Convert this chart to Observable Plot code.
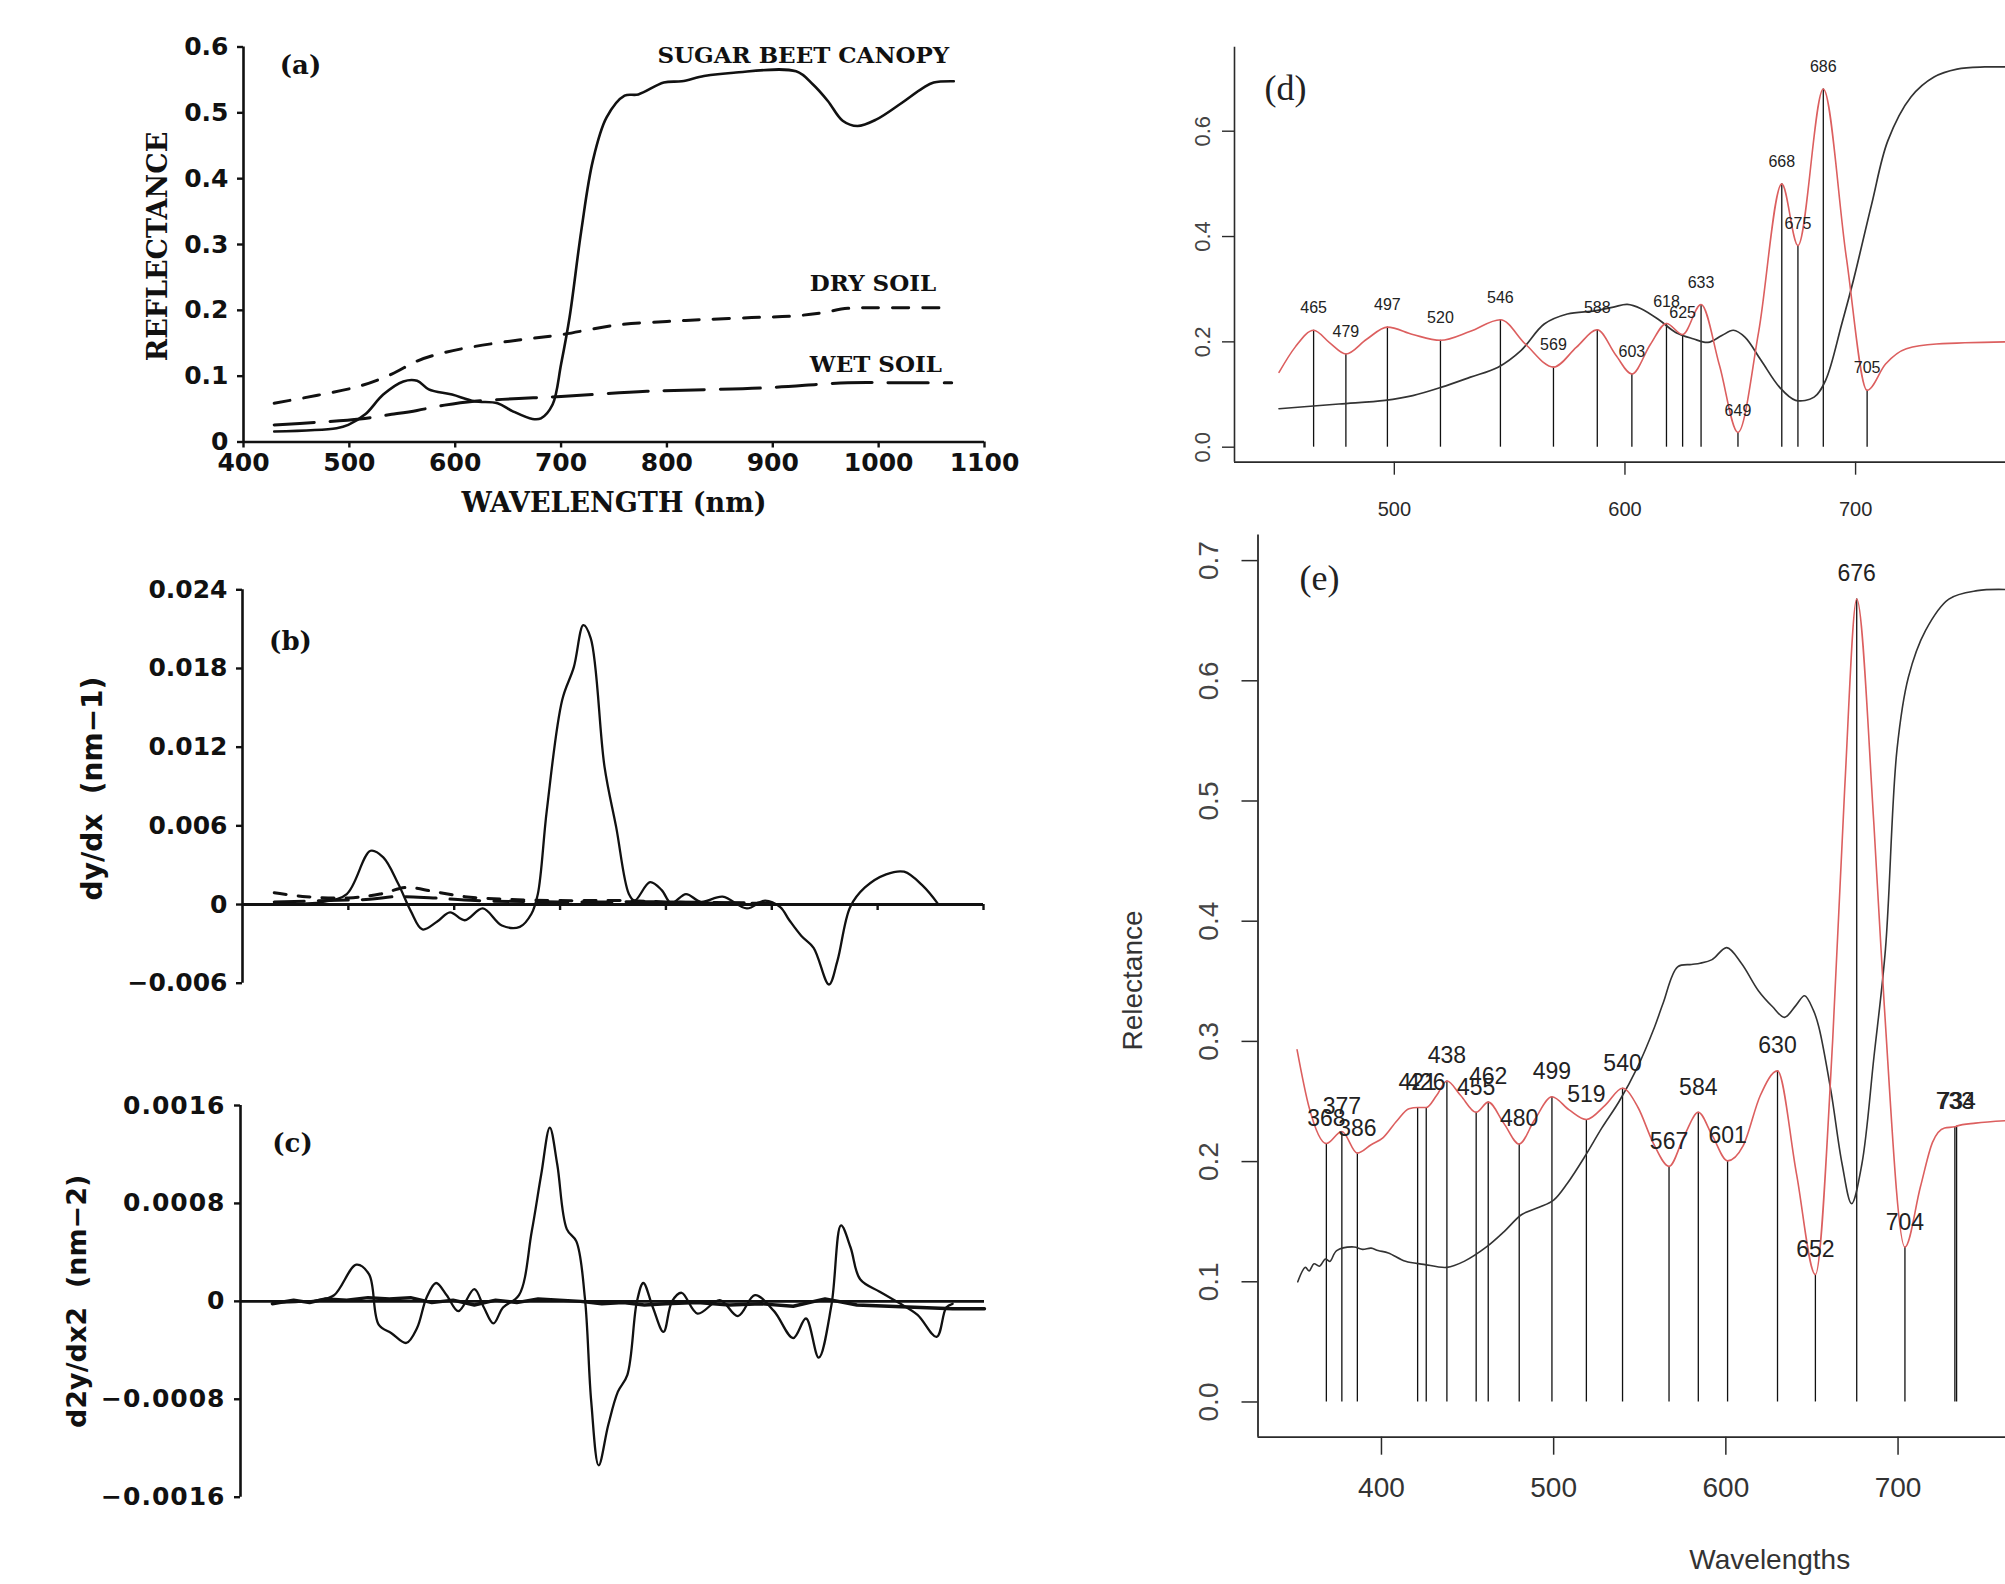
<!DOCTYPE html>
<html>
<head>
<meta charset="utf-8">
<script src="https://cdn.jsdelivr.net/npm/d3@7"></script>
<script src="https://cdn.jsdelivr.net/npm/@observablehq/plot@0.6"></script>
<style>
  html, body { margin: 0; padding: 0; background: #fff; }
  #page { position: relative; width: 2005px; height: 1584px; overflow: hidden; background: #fff; }
  .panel { position: absolute; }
  .panel svg { display: block; }
  #pc g[aria-label="y-axis tick label"] text { letter-spacing: 1px; }
</style>
</head>
<body>
<div id="page">
  <div class="panel" id="pa" style="left:0;top:0;width:1050px;height:540px"></div>
  <div class="panel" id="pb" style="left:0;top:540px;width:1050px;height:480px"></div>
  <div class="panel" id="pc" style="left:0;top:1060px;width:1050px;height:500px"></div>
  <div class="panel" id="pd" style="left:1100px;top:0;width:905px;height:530px"></div>
  <div class="panel" id="pe" style="left:1100px;top:520px;width:905px;height:1064px"></div>
</div>
<script>
// ---------- (a) reflectance spectra ----------
const aXTicks = [400, 500, 600, 700, 800, 900, 1000, 1100];
const aYTicks = [0, 0.1, 0.2, 0.3, 0.4, 0.5, 0.6];
const canopyWl = [429, 488, 499, 515, 532, 551, 564, 575, 597, 618, 640, 654, 673, 681, 692, 700, 708, 719, 730, 743, 760, 773, 797, 814, 835, 863, 922, 938, 952, 966, 980, 998, 1020, 1042, 1052, 1071];
const canopyRefl = [0.016, 0.021, 0.026, 0.042, 0.072, 0.092, 0.093, 0.080, 0.072, 0.062, 0.059, 0.047, 0.035, 0.036, 0.057, 0.118, 0.189, 0.320, 0.427, 0.493, 0.526, 0.528, 0.546, 0.548, 0.556, 0.561, 0.563, 0.543, 0.518, 0.488, 0.480, 0.490, 0.513, 0.538, 0.546, 0.548];
const drySoilWl = [429, 470, 510, 540, 564, 590, 618, 660, 700, 754, 800, 835, 880, 917, 945, 971, 1010, 1069];
const drySoilRefl = [0.059, 0.071, 0.085, 0.103, 0.123, 0.136, 0.145, 0.155, 0.163, 0.178, 0.183, 0.186, 0.189, 0.191, 0.196, 0.203, 0.204, 0.204];
const wetSoilWl = [429, 470, 510, 540, 564, 590, 618, 660, 700, 781, 890, 971, 1020, 1069];
const wetSoilRefl = [0.026, 0.030, 0.035, 0.042, 0.048, 0.056, 0.062, 0.066, 0.069, 0.077, 0.082, 0.090, 0.090, 0.090];

// ---------- (b) first derivative ----------
const bXTicks = [500, 600, 700, 800, 900, 1000, 1100];
const bYTicks = [-0.006, 0, 0.006, 0.012, 0.018, 0.024];
const dCanopyWl = [430, 476, 498.5, 521, 533, 547, 559, 570, 584, 596, 610, 627, 645, 662, 673, 679, 687.5, 702, 713, 722, 729, 742, 753, 765, 770.5, 785, 796, 805, 819, 833, 853.6, 876.5, 893.7, 908, 916.6, 928, 939.5, 954, 962, 974, 988, 1008, 1025, 1043, 1057];
const dCanopyVal = [0.00005, 0.0002, 0.0008, 0.0041, 0.0036, 0.0016, -0.0005, -0.0019, -0.0013, -0.0006, -0.0012, -0.0003, -0.0016, -0.0017, -0.0007, 0.0008, 0.0072, 0.0156, 0.0181, 0.0213, 0.0203, 0.0105, 0.0059, 0.0008, 0.0003, 0.0017, 0.0011, 0.0001, 0.0008, 0.0002, 0.0006, -0.0003, 0.0003, -0.0002, -0.0012, -0.0024, -0.0033, -0.0061, -0.0043, -0.0002, 0.0013, 0.0023, 0.0025, 0.0014, 0.00005];
const dDryWl = [430, 460, 500, 530, 555, 580, 610, 650, 700, 760, 800, 850, 900];
const dDryVal = [0.0009, 0.0006, 0.0005, 0.0008, 0.0013, 0.0010, 0.0006, 0.0004, 0.0003, 0.0003, 0.0002, 0.0001, 0.0001];
const dWetWl = [430, 480, 520, 545, 580, 620, 700, 800, 900];
const dWetVal = [0.0002, 0.0003, 0.0004, 0.0006, 0.0005, 0.0003, 0.0002, 0.0002, 0.0001];

// ---------- (c) second derivative ----------
const cYTicks = [-0.0016, -0.0008, 0, 0.0008, 0.0016];
const d2CanopyWl = [431, 473, 488, 509, 521, 530, 542, 556, 566, 575, 584, 594, 605, 620, 629, 638, 647, 662, 674, 683, 691, 698, 707, 716, 724, 730, 737, 746, 755, 764, 773, 779, 788, 798, 806, 815, 830, 851, 868, 884, 902, 920, 932, 944, 956, 965, 974, 983, 1001, 1019, 1037, 1055, 1064, 1070];
const d2CanopyVal = [-0.00001, 0.00001, 0.00005, 0.0003, 0.00022, -0.00019, -0.00026, -0.00034, -0.00022, 0.00003, 0.00015, 0.00005, -0.00008, 0.0001, -0.00005, -0.00018, -0.00005, 0.00005, 0.00057, 0.00104, 0.00142, 0.00112, 0.00059, 0.00049, 0.00003, -0.00082, -0.00134, -0.00101, -0.00074, -0.0006, 0, 0.00015, -0.00005, -0.00025, 0, 0.00007, -0.0001, 0.00001, -0.00012, 0.00005, -0.00008, -0.0003, -0.00014, -0.00046, -0.00003, 0.00062, 0.00044, 0.00018, 0.00008, -0.00001, -0.00011, -0.00029, -0.00005, -0.00002];
const d2SoilWl = [430, 450, 465, 480, 500, 520, 540, 560, 580, 600, 620, 640, 660, 680, 700, 720, 740, 760, 780, 800, 830, 860, 890, 920, 950, 980, 1010, 1040, 1070, 1100];
const d2SoilVal = [-0.00002, 0.00001, -0.00001, 0.00002, 0.00001, 0.00003, 0.00002, 0.00003, -0.00001, 0.00001, -0.00003, 0.00001, -0.00001, 0.00002, 0.00001, 0, -0.00002, -0.00001, -0.00003, -0.00002, -0.00001, -0.00003, -0.00002, -0.00004, 0.00002, -0.00003, -0.00004, -0.00005, -0.00006, -0.00006];

// ---------- (d) leaf spectrum with marked extrema ----------
const dXTicks = [500, 600, 700];
const dYTicks = [0, 0.2, 0.4, 0.6];
const dBlackWl = [450, 476, 496, 508, 520.5, 533, 545, 555, 565, 575, 587, 595, 601, 607, 615, 622, 629.5, 636, 642, 647, 652, 659, 667, 674, 682, 687, 694, 699, 707, 714, 724, 734, 744, 756, 765];
const dBlackVal = [0.073, 0.082, 0.089, 0.098, 0.114, 0.133, 0.152, 0.184, 0.234, 0.253, 0.259, 0.266, 0.271, 0.263, 0.241, 0.218, 0.206, 0.199, 0.212, 0.222, 0.209, 0.165, 0.114, 0.089, 0.095, 0.127, 0.234, 0.316, 0.462, 0.582, 0.665, 0.703, 0.718, 0.722, 0.722];
const dRedWl = [450, 457, 465, 472, 479, 488, 497, 508, 520, 533, 546, 557, 569, 579, 588, 596, 603, 611, 618, 625, 633, 641, 649, 658, 668, 675, 686, 696, 705, 713, 722, 735, 765];
const dRedVal = [0.142, 0.19, 0.222, 0.198, 0.177, 0.205, 0.228, 0.214, 0.203, 0.22, 0.242, 0.195, 0.152, 0.19, 0.223, 0.175, 0.139, 0.195, 0.235, 0.214, 0.271, 0.155, 0.028, 0.22, 0.5, 0.383, 0.68, 0.36, 0.108, 0.158, 0.187, 0.196, 0.2];
const dPeaks = [465, 479, 497, 520, 546, 569, 588, 603, 618, 625, 633, 649, 668, 675, 686, 705];
const dPeakVals = [0.222, 0.177, 0.228, 0.203, 0.242, 0.152, 0.223, 0.139, 0.235, 0.214, 0.271, 0.028, 0.5, 0.383, 0.68, 0.108];

// ---------- (e) leaf spectrum with marked extrema ----------
const eXTicks = [400, 500, 600, 700];
const eYTicks = [0, 0.1, 0.2, 0.3, 0.4, 0.5, 0.6, 0.7];
const eBlackWl = [351.4, 355.8, 358, 360.8, 364, 367.5, 370, 374, 384, 389, 394, 398, 404, 414, 424.5, 438, 448, 461, 471.4, 481.5, 491.5, 500, 508, 518, 528, 538, 548.5, 558.6, 563.6, 572, 580, 585, 592, 600.5, 609, 619, 627, 634, 640.7, 645.7, 650.8, 654, 661, 667.5, 673, 679, 686, 692.7, 699.4, 706, 716, 729.5, 746, 762.4];
const eBlackVal = [0.1, 0.112, 0.109, 0.115, 0.113, 0.119, 0.117, 0.126, 0.129, 0.127, 0.128, 0.126, 0.124, 0.117, 0.1145, 0.112, 0.117, 0.129, 0.142, 0.156, 0.162, 0.168, 0.182, 0.204, 0.228, 0.25, 0.278, 0.312, 0.332, 0.362, 0.364, 0.365, 0.368, 0.378, 0.365, 0.342, 0.329, 0.32, 0.33, 0.338, 0.326, 0.312, 0.259, 0.198, 0.165, 0.198, 0.287, 0.377, 0.543, 0.603, 0.642, 0.668, 0.675, 0.676];
const eRedWl = [351, 358, 368, 377, 386, 394, 401, 409, 416, 421, 426, 432, 438, 446, 455, 462, 471, 480, 489, 499, 509, 519, 530, 540, 549, 558, 567, 576, 584, 592, 601, 610, 620, 630, 641, 652, 662, 669, 676, 686, 692, 704, 713, 720, 727, 733, 734, 745, 762];
const eRedVal = [0.293, 0.245, 0.215, 0.225, 0.207, 0.214, 0.22, 0.234, 0.244, 0.245, 0.245, 0.255, 0.267, 0.255, 0.241, 0.2495, 0.232, 0.2146, 0.235, 0.254, 0.243, 0.235, 0.247, 0.261, 0.245, 0.215, 0.196, 0.222, 0.241, 0.222, 0.2006, 0.213, 0.255, 0.2755, 0.19, 0.106, 0.30, 0.51, 0.668, 0.48, 0.33, 0.1288, 0.179, 0.216, 0.228, 0.229, 0.2295, 0.232, 0.234];
const ePeaks = [368, 377, 386, 421, 426, 438, 455, 462, 480, 499, 519, 540, 567, 584, 601, 630, 652, 676, 704, 733, 734];
const ePeakVals = [0.215, 0.225, 0.207, 0.245, 0.245, 0.267, 0.241, 0.2495, 0.2146, 0.254, 0.235, 0.261, 0.196, 0.241, 0.2006, 0.2755, 0.106, 0.668, 0.1288, 0.229, 0.2295];

// ---------- helpers ----------
const rows = (xs, ys) => xs.map((x, i) => ({x, y: ys[i]}));
const signed = d => (d < 0 ? "\u2212" + String(-d) : String(d));
const oneDecimal = d => d.toFixed(1);
const svgStyle = {background: "transparent", maxWidth: "none", overflow: "visible", color: "#111"};
const boldSans = {fontFamily: "DejaVu Sans", fontWeight: "bold"};
const boldSerif = {fontFamily: "DejaVu Serif", fontWeight: "bold"};
const rLabel = {fontFamily: "Liberation Sans, Arial, sans-serif"};
const rNarrow = {fontFamily: "'Liberation Sans Narrow', 'Liberation Sans', sans-serif"};
const RED = "#dc5f5f";
const INK = "#2a2a2a";

// ---------- panel (a) ----------
document.getElementById("pa").append(Plot.plot({
  width: 1050, height: 540,
  marginLeft: 243, marginRight: 66, marginTop: 46.5, marginBottom: 98.5,
  x: {domain: [aXTicks[0], aXTicks[aXTicks.length - 1]], label: null},
  y: {domain: [aYTicks[0], aYTicks[aYTicks.length - 1]], label: null},
  style: svgStyle,
  marks: [
    Plot.ruleX([aXTicks[0]], {y1: aYTicks[0], y2: aYTicks[aYTicks.length - 1], strokeWidth: 2.6}),
    Plot.ruleY([aYTicks[0]], {x1: aXTicks[0], x2: aXTicks[aXTicks.length - 1], strokeWidth: 2.6}),
    Plot.axisX(aXTicks, {tickSize: 6, tickPadding: 5, strokeWidth: 2.4, fontSize: 25, ...boldSans, tickFormat: signed, label: null}),
    Plot.axisY(aYTicks, {tickSize: 6, tickPadding: 9, strokeWidth: 2.4, fontSize: 25, ...boldSans, tickFormat: signed, label: null}),
    Plot.line(rows(drySoilWl, drySoilRefl), {x: "x", y: "y", curve: "catmull-rom", strokeWidth: 3, strokeDasharray: "16,14"}),
    Plot.line(rows(wetSoilWl, wetSoilRefl), {x: "x", y: "y", curve: "catmull-rom", strokeWidth: 3, strokeDasharray: "40,16"}),
    Plot.line(rows(canopyWl, canopyRefl), {x: "x", y: "y", curve: "catmull-rom", strokeWidth: 2.6}),
    Plot.text(["SUGAR BEET CANOPY"], {x: 791, y: 0.587, textAnchor: "start", lineAnchor: "middle", fontSize: 23, ...boldSerif}),
    Plot.text(["DRY SOIL"], {x: 935, y: 0.24, textAnchor: "start", lineAnchor: "middle", fontSize: 23, ...boldSerif}),
    Plot.text(["WET SOIL"], {x: 935, y: 0.117, textAnchor: "start", lineAnchor: "middle", fontSize: 23, ...boldSerif}),
    Plot.text(["(a)"], {frameAnchor: "top-left", dx: 57, dy: 18.5, textAnchor: "middle", lineAnchor: "middle", fontSize: 26, ...boldSerif}),
    Plot.text(["WAVELENGTH (nm)"], {frameAnchor: "bottom", dy: 61.5, lineAnchor: "middle", fontSize: 27, ...boldSerif}),
    Plot.text(["REFLECTANCE"], {frameAnchor: "left", dx: -85, dy: 2, rotate: -90, textAnchor: "middle", lineAnchor: "middle", fontSize: 27, ...boldSerif})
  ]
}));

// ---------- panel (b) ----------
document.getElementById("pb").append(Plot.plot({
  width: 1050, height: 480,
  marginLeft: 242, marginRight: 67, marginTop: 49.3, marginBottom: 37.3,
  x: {domain: [aXTicks[0], aXTicks[aXTicks.length - 1]], label: null},
  y: {domain: [bYTicks[0], bYTicks[bYTicks.length - 1]], label: null},
  style: svgStyle,
  marks: [
    Plot.ruleX([aXTicks[0]], {y1: bYTicks[0], y2: bYTicks[bYTicks.length - 1], strokeWidth: 2.6}),
    Plot.ruleY([0], {x1: aXTicks[0], x2: aXTicks[aXTicks.length - 1], strokeWidth: 2.8}),
    Plot.axisX(bXTicks, {dy: -78.7, tickSize: 6, strokeWidth: 2.4, tickFormat: () => "", label: null}),
    Plot.axisY(bYTicks, {tickSize: 6, tickPadding: 9, strokeWidth: 2.4, fontSize: 25, ...boldSans, tickFormat: signed, label: null}),
    Plot.line(rows(dDryWl, dDryVal), {x: "x", y: "y", curve: "catmull-rom", strokeWidth: 3, strokeDasharray: "12,12"}),
    Plot.line(rows(dWetWl, dWetVal), {x: "x", y: "y", curve: "catmull-rom", strokeWidth: 3, strokeDasharray: "30,14"}),
    Plot.line(rows(dCanopyWl, dCanopyVal), {x: "x", y: "y", curve: "catmull-rom", strokeWidth: 2.3}),
    Plot.text(["(b)"], {frameAnchor: "top-left", dx: 48, dy: 52, textAnchor: "middle", lineAnchor: "middle", fontSize: 26, ...boldSerif}),
    Plot.text(["dy/dx \u00a0(nm\u22121)"], {frameAnchor: "left", dx: -149, dy: 2, rotate: -90, textAnchor: "middle", lineAnchor: "middle", fontSize: 28, ...boldSans})
  ]
}));

// ---------- panel (c) ----------
document.getElementById("pc").append(Plot.plot({
  width: 1050, height: 500,
  marginLeft: 240, marginRight: 66, marginTop: 45, marginBottom: 63.3,
  x: {domain: [aXTicks[0], aXTicks[aXTicks.length - 1]], label: null, axis: null},
  y: {domain: [cYTicks[0], cYTicks[cYTicks.length - 1]], label: null},
  style: svgStyle,
  marks: [
    Plot.ruleX([aXTicks[0]], {y1: cYTicks[0], y2: cYTicks[cYTicks.length - 1], strokeWidth: 2.6}),
    Plot.ruleY([0], {x1: aXTicks[0], x2: aXTicks[aXTicks.length - 1], strokeWidth: 2.8}),
    Plot.axisY(cYTicks, {tickSize: 6, tickPadding: 9, strokeWidth: 2.4, fontSize: 25, ...boldSans, tickFormat: signed, label: null}),
    Plot.line(rows(d2SoilWl, d2SoilVal), {x: "x", y: "y", strokeWidth: 3.4}),
    Plot.line(rows(d2CanopyWl, d2CanopyVal), {x: "x", y: "y", curve: "catmull-rom", strokeWidth: 2.3}),
    Plot.text(["(c)"], {frameAnchor: "top-left", dx: 52, dy: 38, textAnchor: "middle", lineAnchor: "middle", fontSize: 26, ...boldSerif}),
    Plot.text(["d2y/dx2 \u00a0(nm\u22122)"], {frameAnchor: "left", dx: -163, dy: 0, rotate: -90, textAnchor: "middle", lineAnchor: "middle", fontSize: 27, ...boldSans})
  ]
}));

// ---------- panel (d) ----------
const dX = [430.7, 765], dY = [-0.0285, 0.7595];
document.getElementById("pd").append(Plot.plot({
  width: 905, height: 530,
  marginLeft: 134, marginRight: 0, marginTop: 46.7, marginBottom: 68.3,
  x: {domain: dX, label: null},
  y: {domain: dY, label: null},
  style: svgStyle,
  marks: [
    Plot.ruleX([dX[0]], {y1: dY[0], y2: dY[1], strokeWidth: 1.6, stroke: INK}),
    Plot.ruleY([dY[0]], {x1: dX[0], x2: dX[1], strokeWidth: 1.8, stroke: INK}),
    Plot.axisX(dXTicks, {tickSize: 13, tickPadding: 27, strokeWidth: 1.4, stroke: INK, fill: INK, fontSize: 20, ...rNarrow, label: null}),
    Plot.axisY(dYTicks, {tickSize: 12, tickPadding: 13, tickRotate: -90, strokeWidth: 1.4, stroke: INK, fill: "#444", fontSize: 22, ...rLabel, tickFormat: oneDecimal, label: null}),
    Plot.ruleX(rows(dPeaks, dPeakVals), {x: "x", y1: 0, y2: "y", stroke: "#111", strokeWidth: 1.3}),
    Plot.line(rows(dBlackWl, dBlackVal), {x: "x", y: "y", curve: "catmull-rom", stroke: "#333", strokeWidth: 1.7, clip: true}),
    Plot.line(rows(dRedWl, dRedVal), {x: "x", y: "y", curve: "monotone-x", stroke: RED, strokeWidth: 1.6, clip: true}),
    Plot.text(rows(dPeaks, dPeakVals), {x: "x", y: "y", text: d => String(d.x), dy: -22, lineAnchor: "middle", fontSize: 16, fill: "#222", ...rNarrow}),
    Plot.text(["(d)"], {frameAnchor: "top-left", dx: 51, dy: 41, textAnchor: "middle", lineAnchor: "middle", fontSize: 36, fill: "#222", fontFamily: "Liberation Serif"})
  ]
}));

// ---------- panel (e) ----------
const eX = [328.3, 762.4], eY = [-0.0293, 0.7213];
document.getElementById("pe").append(Plot.plot({
  width: 905, height: 1064,
  marginLeft: 157.5, marginRight: 0, marginTop: 14.5, marginBottom: 147.3,
  x: {domain: eX, label: null},
  y: {domain: eY, label: null},
  style: svgStyle,
  marks: [
    Plot.ruleX([eX[0]], {y1: eY[0], y2: eY[1], strokeWidth: 1.8, stroke: INK}),
    Plot.ruleY([eY[0]], {x1: eX[0], x2: eX[1], strokeWidth: 1.8, stroke: INK}),
    Plot.axisX(eXTicks, {tickSize: 18, tickPadding: 22, strokeWidth: 1.5, stroke: INK, fill: "#333", fontSize: 28, ...rLabel, label: null}),
    Plot.axisY(eYTicks, {tickSize: 16, tickPadding: 24, tickRotate: -90, strokeWidth: 1.5, stroke: INK, fill: "#444", fontSize: 28, ...rLabel, tickFormat: oneDecimal, label: null}),
    Plot.ruleX(rows(ePeaks, ePeakVals), {x: "x", y1: 0, y2: "y", stroke: "#111", strokeWidth: 1.3}),
    Plot.line(rows(eBlackWl, eBlackVal), {x: "x", y: "y", curve: "catmull-rom", stroke: "#333", strokeWidth: 1.6, clip: true}),
    Plot.line(rows(eRedWl, eRedVal), {x: "x", y: "y", curve: "monotone-x", stroke: RED, strokeWidth: 1.6, clip: true}),
    Plot.text(rows(ePeaks, ePeakVals), {x: "x", y: "y", text: d => String(d.x), dy: -25, lineAnchor: "middle", fontSize: 23, fill: "#222", ...rLabel}),
    Plot.text(["(e)"], {frameAnchor: "top-left", dx: 61.5, dy: 43.5, textAnchor: "middle", lineAnchor: "middle", fontSize: 36, fill: "#222", fontFamily: "Liberation Serif"}),
    Plot.text(["Relectance"], {frameAnchor: "left", dx: -124.5, dy: -5.6, rotate: -90, textAnchor: "middle", lineAnchor: "middle", fontSize: 28, fill: "#333", ...rLabel}),
    Plot.text(["Wavelengths"], {frameAnchor: "bottom", dx: 138, dy: 123.3, lineAnchor: "middle", fontSize: 28, fill: "#333", ...rLabel})
  ]
}));
</script>
</body>
</html>
